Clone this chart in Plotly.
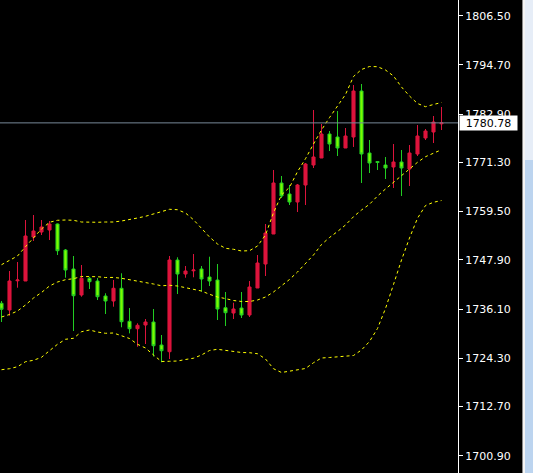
import plotly.graph_objects as go

# bar index (one per candle, left to right)
bars = list(range(56))

opens = [1737.48, 1735.87, 1742.88, 1742.83, 1753.39, 1754.59, 1755.07, 1756.51, 1750.27, 1745.71,
         1739.47, 1743.48, 1742.83, 1739.23, 1738.03, 1741.08, 1733.16, 1731.38, 1732.27, 1732.99,
         1727.47, 1725.86, 1747.87, 1744.51, 1745.28, 1745.71, 1743.79, 1743.07, 1736.42, 1735.15,
         1736.35, 1734.67, 1741.15, 1746.91, 1754.11, 1766.35, 1763.71, 1761.79, 1765.87, 1770.67,
         1772.35, 1778.11, 1777.39, 1774.75, 1777.39, 1788.43, 1773.55, 1771.51, 1770.67, 1770.19,
         1771.39, 1769.71, 1773.31, 1777.15, 1778.59, 1780.55]
highs = [1738.03, 1745.23, 1747.39, 1757.47, 1758.67, 1757.47, 1757.23, 1756.63, 1750.51, 1748.83,
         1746.67, 1743.79, 1743.55, 1739.88, 1743.07, 1744.68, 1736.35, 1732.68, 1733.71, 1736.11,
         1729.87, 1748.83, 1748.52, 1746.43, 1749.31, 1746.43, 1748.66, 1746.91, 1740.19, 1737.62,
         1740.19, 1742.83, 1749.07, 1756.51, 1769.47, 1768.03, 1765.87, 1766.11, 1771.15, 1783.87,
         1780.51, 1778.83, 1783.63, 1779.55, 1789.87, 1790.11, 1776.67, 1771.63, 1772.59, 1775.71,
         1774.27, 1775.47, 1780.27, 1779.31, 1782.43, 1784.59]
lows = [1732.99, 1734.50, 1741.22, 1742.83, 1752.43, 1753.87, 1752.67, 1749.07, 1743.62, 1730.83,
        1739.06, 1740.91, 1738.27, 1734.91, 1736.66, 1731.72, 1730.26, 1727.06, 1727.71, 1724.71,
        1723.32, 1724.11, 1739.71, 1743.62, 1743.72, 1740.26, 1741.63, 1733.47, 1732.03, 1733.71,
        1733.95, 1734.19, 1741.15, 1744.03, 1754.11, 1762.75, 1761.07, 1759.39, 1761.07, 1769.95,
        1772.35, 1774.03, 1772.83, 1774.75, 1775.00, 1766.35, 1768.75, 1769.47, 1767.31, 1765.15,
        1763.23, 1765.63, 1772.83, 1776.67, 1775.95, 1779.07]
closes = [1736.04, 1742.83, 1743.07, 1753.63, 1754.83, 1755.79, 1756.51, 1750.10, 1745.47, 1739.30,
          1743.48, 1742.66, 1739.06, 1738.03, 1741.08, 1733.06, 1731.38, 1732.20, 1732.99, 1727.30,
          1726.10, 1747.87, 1744.51, 1745.23, 1745.47, 1743.31, 1742.83, 1736.11, 1735.22, 1736.11,
          1734.67, 1741.39, 1747.15, 1754.35, 1766.35, 1763.23, 1761.79, 1765.87, 1770.91, 1772.59,
          1778.11, 1775.71, 1774.75, 1777.63, 1788.43, 1773.31, 1771.15, 1771.27, 1769.95, 1771.39,
          1769.95, 1773.55, 1777.63, 1778.83, 1780.99, 1780.78]

# Bollinger bands
bb_upper = [1746.74, 1747.80, 1748.83, 1751.06, 1753.22, 1755.31, 1756.92, 1757.40, 1757.47, 1757.40,
            1756.99, 1756.92, 1756.92, 1756.99, 1756.99, 1757.23, 1757.54, 1757.95, 1758.36, 1758.98,
            1759.56, 1760.04, 1759.94, 1759.15, 1757.54, 1755.55, 1753.39, 1751.71, 1750.68, 1750.44,
            1750.03, 1750.10, 1751.23, 1753.87, 1759.22, 1763.47, 1765.32, 1769.06, 1772.18, 1775.71,
            1779.07, 1782.05, 1784.76, 1787.59, 1791.91, 1793.59, 1794.31, 1794.26, 1793.47, 1792.03,
            1789.39, 1787.23, 1785.43, 1784.66, 1785.19, 1785.67]
bb_mid = [1734.19, 1734.79, 1735.63, 1737.07, 1738.75, 1740.07, 1741.63, 1742.59, 1743.14, 1743.38,
          1743.91, 1743.96, 1743.86, 1743.67, 1743.69, 1743.48, 1743.14, 1742.90, 1742.59, 1742.11,
          1741.68, 1741.80, 1741.63, 1741.22, 1740.91, 1740.43, 1739.64, 1738.99, 1738.61, 1738.15,
          1737.91, 1737.91, 1738.27, 1738.99, 1740.19, 1741.75, 1743.19, 1744.99, 1746.91, 1749.07,
          1751.59, 1753.27, 1754.71, 1756.27, 1758.26, 1759.87, 1761.24, 1763.23, 1764.91, 1766.52,
          1768.15, 1769.83, 1771.32, 1772.66, 1773.55, 1774.34]
bb_lower = [1721.54, 1721.78, 1722.26, 1723.46, 1723.80, 1724.52, 1726.10, 1727.64, 1728.84, 1729.08,
            1730.66, 1731.07, 1730.59, 1730.28, 1730.35, 1729.75, 1729.03, 1727.64, 1726.75, 1725.07,
            1723.51, 1723.56, 1723.63, 1723.99, 1724.30, 1725.07, 1726.15, 1726.44, 1726.17, 1725.86,
            1725.67, 1725.62, 1725.38, 1724.11, 1721.78, 1720.87, 1721.15, 1721.47, 1721.83, 1723.22,
            1724.35, 1724.47, 1724.59, 1724.83, 1724.95, 1726.27, 1728.31, 1731.43, 1736.23, 1741.99,
            1747.87, 1753.15, 1757.88, 1760.95, 1761.72, 1762.15]

tick_vals = [1806.50, 1794.70, 1782.90, 1771.30, 1759.50, 1747.90, 1736.10, 1724.30, 1712.70, 1700.90]
tick_text = ['%.2f' % v for v in tick_vals]
last_price = 1780.78

fig = go.Figure()

# bands first so candles sit on top
for band in (bb_upper, bb_mid, bb_lower):
    fig.add_trace(go.Scatter(
        x=bars, y=band, mode='lines',
        line=dict(color='#FFFF00', width=1, dash='3px,3px'),
        hoverinfo='skip', showlegend=False,
    ))

fig.add_trace(go.Candlestick(
    x=bars, open=opens, high=highs, low=lows, close=closes,
    increasing=dict(line=dict(color='#DC143C', width=1), fillcolor='#DC143C'),
    decreasing=dict(line=dict(color='#22CC22', width=1), fillcolor='#7CFC00'),
    whiskerwidth=0,
    hoverinfo='skip', showlegend=False,
))

# current price line
fig.add_shape(type='line', xref='paper', x0=0, x1=1, yref='y', y0=last_price, y1=last_price,
              line=dict(color='#778899', width=1))

fig.add_annotation(
    xref='paper', x=1, xanchor='left', xshift=1,
    yref='y', y=last_price, yanchor='middle',
    text='%.2f' % last_price, showarrow=False,
    font=dict(family='DejaVu Sans', size=11, color='black'),
    bgcolor='white', width=57, height=14, borderpad=0, align='center',
)

# scrollbar strip on the right
for x0, x1, y0, y1, clr in [
    (522 / 458, 523 / 458, 0, 1, '#8a8a8a'),
    (523 / 458, 525 / 458, 0, 1, '#f4f4f4'),
    (525 / 458, 533 / 458, 1 - 160 / 473, 1, '#e6edf7'),
    (525 / 458, 533 / 458, 0, 1 - 160 / 473, '#bcd4ef'),
]:
    fig.add_shape(type='rect', xref='paper', yref='paper', x0=x0, x1=x1, y0=y0, y1=y1,
                  fillcolor=clr, line_width=0, layer='above')

fig.update_layout(
    width=533, height=473,
    margin=dict(l=0, r=75, t=0, b=0),
    paper_bgcolor='black', plot_bgcolor='black',
    boxgap=0.45,
    showlegend=False,
    xaxis=dict(range=[-0.1875, 57.0625], visible=False, rangeslider=dict(visible=False),
               fixedrange=True),
    yaxis=dict(
        side='right', range=[1696.75, 1810.27],
        tickmode='array', tickvals=tick_vals, ticktext=tick_text,
        ticks='outside', ticklen=4, tickcolor='white', tickwidth=1,
        showline=True, linecolor='white', linewidth=1,
        showgrid=False, zeroline=False,
        tickfont=dict(family='DejaVu Sans', size=11, color='white'),
    ),
)

# page body margin would shift the chart, so drop it
fig.write_html("out.html", config=dict(displayModeBar=False),
               post_script="document.body.style.margin='0';document.body.style.overflow='hidden';")
